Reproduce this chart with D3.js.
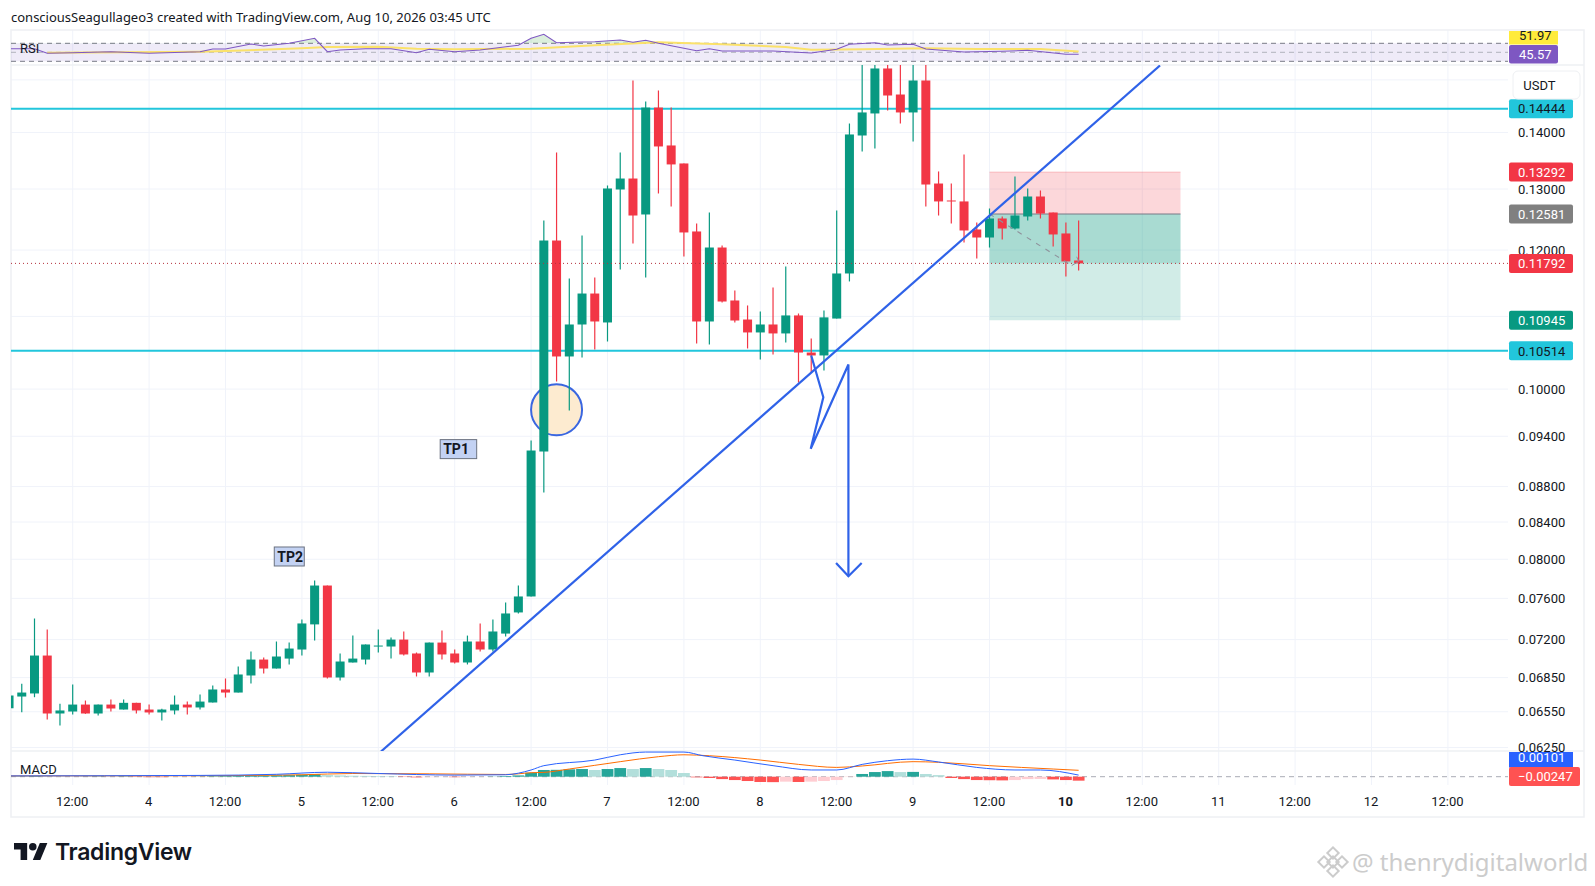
<!DOCTYPE html>
<html>
<head>
<meta charset="utf-8">
<script src="https://cdn.jsdelivr.net/npm/d3@7"></script>
<style>
  html, body { margin: 0; padding: 0; background: #fff; overflow: hidden; }
  text { font-family: Roboto, sans-serif; fill: #131722; }
</style>
</head>
<body>
<svg id="chart" width="1595" height="886"></svg>
<script>
// 2h candles, bar number 0 is Aug 3 12:00 UTC, first bar on screen is -5
const firstBar = -5;
const opens = [
  .06580,.06682,.06709,.07051,.06535,.06552,.06612,.06535,.06612,.06569,
  .06627,.06569,.06544,.06561,.06612,.06587,.06630,.06744,.06717,.06869,
  .07014,.06932,.07023,.07107,.07345,.07729,.06851,.06987,.07014,.07135,
  .07135,.07200,.07070,.06896,.07172,.07070,.06987,.07182,.07107,.07257,
  .07461,.07619,.09214,.12151,.10437,.10884,.11335,.10913,.12992,.13180,
  .12573,.14466,.13764,.13443,.12296,.10927,.12040,.11232,.10955,.10771,
  .10884,.10757,.11014,.10491,.10451,.10969,.11637,.13945,.14354,.15226,
  .14715,.14373,.14988,.13094,.12806,.12790,.12328,.12199,.12507,.12344,
  .12540,.12873,.12606,.12264,.11837];
const highs = [
  .06691,.06795,.07402,.07296,.06618,.06788,.06647,.06612,.06656,.06656,
  .06627,.06612,.06575,.06691,.06638,.06700,.06779,.06842,.06950,.07089,
  .07032,.07182,.07172,.07393,.07780,.07729,.07070,.07238,.07154,.07296,
  .07219,.07277,.07079,.07172,.07286,.07107,.07238,.07354,.07393,.07559,
  .07729,.09348,.12474,.13638,.11561,.12231,.11576,.13060,.13638,.14988,
  .14581,.14793,.14466,.13443,.12425,.12606,.12071,.11380,.11159,.11072,
  .11425,.11745,.11042,.10686,.11086,.12639,.14166,.15386,.15386,.15386,
  .15386,.15386,.15386,.13303,.13094,.13602,.12441,.12672,.12540,.13215,
  .13009,.12975,.12606,.12441,.12474];
const lows = [
  .06580,.06546,.06676,.06483,.06433,.06527,.06532,.06518,.06552,.06569,
  .06535,.06527,.06475,.06527,.06527,.06569,.06630,.06673,.06717,.06797,
  .06887,.06932,.06969,.07051,.07191,.06842,.06824,.06987,.06969,.07079,
  .07023,.07051,.06860,.06860,.07014,.06978,.06969,.07089,.07089,.07229,
  .07451,.07619,.08732,.10100,.09723,.10423,.10533,.10644,.11698,.12103,
  .11576,.12924,.12706,.11899,.10616,.10602,.11203,.10913,.10547,.10396,
  .10464,.10630,.10087,.10220,.10247,.10969,.11516,.13656,.13710,.14410,
  .14166,.13836,.12706,.12556,.12425,.12119,.11868,.12040,.12167,.12328,
  .12474,.12507,.12056,.11592,.11683];
const closes = [
  .06691,.06717,.07051,.06535,.06561,.06612,.06535,.06612,.06578,.06627,
  .06561,.06544,.06569,.06612,.06587,.06638,.06744,.06717,.06878,.07014,
  .06932,.07042,.07116,.07354,.07729,.06851,.06996,.07023,.07154,.07144,
  .07200,.07061,.06896,.07172,.07061,.06987,.07182,.07107,.07277,.07451,
  .07619,.09226,.12151,.10437,.10884,.11335,.10927,.13009,.13180,.12556,
  .14466,.13746,.13426,.12280,.10927,.12040,.11217,.10941,.10771,.10884,
  .10757,.11014,.10491,.10451,.10986,.11637,.13964,.14373,.15226,.14696,
  .14373,.14988,.13077,.12790,.12790,.12312,.12199,.12507,.12344,.12556,
  .12873,.12589,.12248,.11822,.11792];

// axes
const priceTicks = [.14,.13,.12,.10,.094,.088,.084,.08,.076,.072,.0685,.0655,.0625];
const gridPrices = [.15,.14,.13,.12,.11,.10,.094,.088,.084,.08,.076,.072,.0685,.0655,.0625];
const timeLabels = ['12:00','4','12:00','5','12:00','6','12:00','7','12:00','8','12:00','9','12:00','10','12:00','11','12:00','12','12:00'];

// price tags and horizontal levels
const levelPrices = [.14444,.10514];
const stopPrice = .13292, entryPrice = .12581, lastPrice = .11792, targetPrice = .10945;
const positionBars = [72, 87];

// drawings, in [bar number, price]
const trendLine = [[24.21,.06217],[85.39,.15286]];
const handArrow = [[58,.10451],[58.95,.09894],[57.96,.09247],[60.92,.10328],[60.92,.07824]];
const handArrowHead = [[59.95,.07961],[60.92,.07824],[61.96,.07961]];
const tradePath = [[72,.12581],[78.46,.11759]];
const tradeHead = [[78.46,.11759],[79,.11822],[78.85,.11895]];
const circleMark = [38,.09732];
const noteLabels = ['TP1','TP2'];
const noteBars = [28.86,15.83];
const notePrices = [.09243,.08029];

// RSI readings, in [bar number, value]
const rsiLine = [[-5,58],[-3,58],[-2,47.8],[0,49.1],[3,51.3],[6,47.8],[10,51.3],[11,57.3],[12,57.3],[14,68.4],[15,64],[17,70],[19,81.1],[20,51.3],[21,55.1],[23,58],[25,58],[27,49.1],[28,56.7],[30,51.3],[32,55.1],[35,65.6],[36,81.1],[37,90],[38,71.3],[40,72.9],[41,73.6],[43,77.3],[44,72.2],[45,76.7],[46,70],[47,64.7],[49,53.6],[50,58],[51,52.9],[55,52.9],[58,48.4],[60,56.7],[61,67.8],[63,71.3],[64,66.2],[66,67.8],[67,57.3],[70,50.7],[73,52.2],[75,54.4],[78,45.6],[79,45.57]];
const rsiMa = [[-2,49.1],[10,51.3],[12,52.9],[18,58.9],[20,61.8],[24,62.4],[27,58],[30,56.7],[36,58],[41,65.8],[46,72.2],[51,67.8],[56,61.8],[58,55.8],[62,56.7],[67,58.9],[71,57.3],[76,57.3],[79,51.97]];

// MACD, histogram has one value per candle
const macdHist = [
  .0001,.0002,.0004,.0003,.0002,.0001,.0001,.0002,.0001,.0002,
  -.0002,-.0003,-.0003,-.0002,-.0001,.0001,.0003,.0004,.0006,.0008,
  .0008,.0009,.0010,.0012,.0016,.0010,.0008,.0006,.0005,.0004,
  .0003,-.0002,-.0004,-.0003,-.0002,-.0003,-.0002,-.0001,.0001,.0004,
  .0008,.0025,.0042,.0043,.0046,.0048,.0042,.0048,.0054,.0048,
  .0054,.0048,.0042,.0023,-.0004,-.0008,-.0015,-.0021,-.0027,-.0033,
  -.0034,-.0031,-.0033,-.0031,-.0027,-.0021,-.0002,.0017,.0029,.0035,
  .0029,.0030,.0017,.0010,-.0008,-.0015,-.0021,-.0022,-.0023,-.0021,
  -.0015,-.0014,-.0017,-.0021,-.00247];
const macdLine = [[-5,.0005],[10,.0008],[16,.0015],[20,.0028],[24,.0020],[30,.0010],[34,.0012],[35,.0022],[36,.0042],[37,.0069],[41,.0104],[43,.0137],[45,.0154],[48,.0154],[49.5,.0131],[52,.0104],[55,.0069],[58,.0042],[60,.0042],[62,.0077],[64,.0100],[66,.0110],[68,.0092],[71,.0058],[74,.0042],[76,.0042],[79,.00101]];
const macdSignal = [[-5,.0005],[10,.0006],[18,.0012],[22,.0020],[28,.0018],[34,.0014],[35,.0018],[36,.0025],[37,.0027],[39,.0048],[43,.0094],[46,.0125],[48,.0137],[50,.0131],[54,.0104],[57,.0077],[60,.0058],[62,.0067],[66,.0094],[68,.0090],[72,.0069],[77,.0048],[79,.0040]];

const svg = d3.select('#chart');
const H2 = 2 * 3600 * 1000;
const t0 = Date.UTC(2026, 7, 3, 12);

// panes
const paneLeft = 11, paneRight = 1508, outerRight = 1584;
const rsiTop = 30, mainTop = 65, mainBottom = 751, macdBottom = 785, outerBottom = 817;

const xTime = d3.scaleUtc().domain([new Date(t0), new Date(t0 + 108 * H2)]).range([72.7, 1447.9]);
const barX = n => xTime(new Date(t0 + n * H2));
const y = d3.scaleLog().domain([.14, .0625]).range([132.5, 747.5]);
const yRsi = d3.scaleLinear().domain([70, 30]).range([43.3, 61.3]);
const yMacd = d3.scaleLinear().domain([0, .01]).range([776.7, 760.7]);
const tickTimes = timeLabels.map((_, i) => new Date(t0 + i * 6 * H2));

const defs = svg.append('defs');
function addClip(id, top, bottom) {
  defs.append('clipPath').attr('id', id).append('rect')
    .attr('x', paneLeft).attr('y', top).attr('width', paneRight - paneLeft).attr('height', bottom - top);
}
addClip('clip-rsi', rsiTop, mainTop);
addClip('clip-main', mainTop, mainBottom);
addClip('clip-macd', mainBottom, macdBottom);
defs.append('clipPath').attr('id', 'clip-ob').append('rect')
  .attr('x', paneLeft).attr('y', rsiTop).attr('width', paneRight - paneLeft).attr('height', yRsi(70) - rsiTop);

// === grid and frame ===
const gridColor = '#f0f3fa';
svg.append('g').selectAll('line').data(tickTimes).join('line')
  .attr('x1', d => xTime(d)).attr('x2', d => xTime(d))
  .attr('y1', rsiTop).attr('y2', macdBottom)
  .attr('stroke', gridColor).attr('stroke-width', 1);
svg.append('g').selectAll('line').data(gridPrices).join('line')
  .attr('x1', paneLeft).attr('x2', paneRight)
  .attr('y1', d => y(d)).attr('y2', d => y(d))
  .attr('stroke', gridColor).attr('stroke-width', 1);

const frame = svg.append('g').attr('stroke', '#eef0f3').attr('stroke-width', 1.5);
frame.append('rect').attr('x', paneLeft).attr('y', rsiTop).attr('width', outerRight - paneLeft)
  .attr('height', outerBottom - rsiTop).attr('fill', 'none');
[mainTop, mainBottom].forEach(v => {
  frame.append('line').attr('x1', paneLeft).attr('x2', outerRight).attr('y1', v).attr('y2', v);
});

// === RSI pane ===
const rsiG = svg.append('g').attr('clip-path', 'url(#clip-rsi)');
rsiG.append('rect').attr('x', paneLeft).attr('width', paneRight - paneLeft)
  .attr('y', yRsi(70)).attr('height', yRsi(30) - yRsi(70)).attr('fill', '#7e57c2').attr('opacity', .12);
[[70, '#787b86', 1], [50, '#a9acb5', .9], [30, '#787b86', 1]].forEach(([v, c, w]) => {
  rsiG.append('line').attr('x1', paneLeft).attr('x2', paneRight).attr('y1', yRsi(v)).attr('y2', yRsi(v))
    .attr('stroke', c).attr('stroke-width', w).attr('stroke-dasharray', '5 4');
});
const rsiPath = d3.line().x(d => barX(d[0])).y(d => yRsi(d[1]));
rsiG.append('path').datum(rsiLine).attr('clip-path', 'url(#clip-ob)')
  .attr('d', d3.area().x(d => barX(d[0])).y0(yRsi(70)).y1(d => yRsi(d[1])))
  .attr('fill', '#4caf50').attr('opacity', .2);
rsiG.append('path').datum(rsiMa).attr('d', rsiPath).attr('fill', 'none').attr('stroke', '#fbe26a').attr('stroke-width', 2);
rsiG.append('path').datum(rsiLine).attr('d', rsiPath).attr('fill', 'none').attr('stroke', '#7e57c2').attr('stroke-width', 1.1);
svg.append('text').attr('x', 20).attr('y', 48.5).attr('dy', '.35em').attr('font-size', 13).text('RSI');

// === main pane: things under the candles ===
const mainG = svg.append('g').attr('clip-path', 'url(#clip-main)');
const posX = barX(positionBars[0]), posW = barX(positionBars[1]) - posX;
mainG.append('rect').attr('x', posX).attr('width', posW).attr('y', y(stopPrice)).attr('height', y(entryPrice) - y(stopPrice))
  .attr('fill', '#f23645').attr('fill-opacity', .2);
mainG.append('line').attr('x1', posX).attr('x2', posX + posW).attr('y1', y(stopPrice)).attr('y2', y(stopPrice))
  .attr('stroke', '#f23645').attr('stroke-opacity', .25);
mainG.append('rect').attr('x', posX).attr('width', posW).attr('y', y(entryPrice)).attr('height', y(targetPrice) - y(entryPrice))
  .attr('fill', '#089981').attr('fill-opacity', .19);
mainG.append('rect').attr('x', posX).attr('width', posW).attr('y', y(entryPrice)).attr('height', y(lastPrice) - y(entryPrice))
  .attr('fill', '#089981').attr('fill-opacity', .2);
mainG.append('line').attr('x1', posX).attr('x2', posX + posW).attr('y1', y(entryPrice)).attr('y2', y(entryPrice))
  .attr('stroke', '#787b86').attr('stroke-width', 1.2);

mainG.append('g').selectAll('line').data(levelPrices).join('line')
  .attr('x1', paneLeft).attr('x2', paneRight).attr('y1', d => y(d)).attr('y2', d => y(d))
  .attr('stroke', '#22c6dc').attr('stroke-width', 2);

mainG.append('circle').attr('cx', barX(circleMark[0])).attr('cy', y(circleMark[1])).attr('r', 25.5)
  .attr('fill', '#fdebd0').attr('stroke', '#3a66e0').attr('stroke-width', 2);

// === candles ===
const candles = opens.map((o, i) => ({n: firstBar + i, o, h: highs[i], l: lows[i], c: closes[i]}));
const candleColor = d => d.c >= d.o ? '#089981' : '#f23645';
const candleG = mainG.append('g');
candleG.selectAll('line').data(candles).join('line')
  .attr('x1', d => barX(d.n)).attr('x2', d => barX(d.n))
  .attr('y1', d => y(d.h)).attr('y2', d => y(d.l))
  .attr('stroke', candleColor).attr('stroke-width', 1.2);
candleG.selectAll('rect').data(candles).join('rect')
  .attr('x', d => barX(d.n) - 4.5).attr('width', 9)
  .attr('y', d => y(Math.max(d.o, d.c)))
  .attr('height', d => Math.max(1, Math.abs(y(d.o) - y(d.c))))
  .attr('fill', candleColor);

// === drawings on top of the candles ===
mainG.append('line').attr('x1', paneLeft).attr('x2', paneRight).attr('y1', y(lastPrice)).attr('y2', y(lastPrice))
  .attr('stroke', '#b5303c').attr('stroke-width', 1).attr('stroke-dasharray', '1 3');

const pricePath = d3.line().x(d => barX(d[0])).y(d => y(d[1]));
mainG.append('path').datum(tradePath).attr('d', pricePath).attr('fill', 'none')
  .attr('stroke', '#8f939c').attr('stroke-width', 1.1).attr('stroke-dasharray', '5 6');
mainG.append('path').datum(tradeHead).attr('d', pricePath).attr('fill', 'none')
  .attr('stroke', '#8f939c').attr('stroke-width', 1);
[trendLine, handArrow, handArrowHead].forEach(pts => {
  mainG.append('path').datum(pts).attr('d', pricePath).attr('fill', 'none')
    .attr('stroke', '#2f62e8').attr('stroke-width', 2.2);
});

noteLabels.forEach((t, i) => {
  const g = mainG.append('g').attr('transform', `translate(${barX(noteBars[i])},${y(notePrices[i])})`);
  g.append('rect').attr('y', -9.5).attr('height', 19).attr('width', t === 'TP1' ? 36.5 : 30)
    .attr('fill', '#c3d2f3').attr('stroke', '#6b7280').attr('stroke-width', 1);
  g.append('text').attr('x', 3).attr('dy', '.36em').attr('font-size', 14).attr('font-weight', 700).text(t);
});

// === MACD pane ===
const macdG = svg.append('g').attr('clip-path', 'url(#clip-macd)');
macdG.append('line').attr('x1', paneLeft).attr('x2', paneRight).attr('y1', yMacd(0)).attr('y2', yMacd(0))
  .attr('stroke', '#a9acb5').attr('stroke-width', 1).attr('stroke-dasharray', '5 4');
const histColor = (d, i) => {
  const prev = i ? macdHist[i - 1] : 0;
  if (d >= 0) return d >= prev ? '#26a69a' : '#b2dfdb';
  return d <= prev ? '#ff5252' : '#ffcdd2';
};
macdG.append('g').selectAll('rect').data(macdHist).join('rect')
  .attr('x', (d, i) => barX(firstBar + i) - 5.9).attr('width', 11.8)
  .attr('y', d => Math.min(yMacd(d), yMacd(0)))
  .attr('height', d => Math.abs(yMacd(d) - yMacd(0)))
  .attr('fill', histColor);
const macdPath = d3.line().x(d => barX(d[0])).y(d => yMacd(d[1])).curve(d3.curveMonotoneX);
macdG.append('path').datum(macdSignal).attr('d', macdPath).attr('fill', 'none').attr('stroke', '#ff6d00').attr('stroke-width', 1);
macdG.append('path').datum(macdLine).attr('d', macdPath).attr('fill', 'none').attr('stroke', '#2962ff').attr('stroke-width', 1);
svg.append('text').attr('x', 20).attr('y', 769).attr('dy', '.35em').attr('font-size', 13).text('MACD');

// === axes ===
const yAxis = svg.append('g').attr('transform', 'translate(1518,0)')
  .call(d3.axisRight(y).tickValues(priceTicks).tickFormat(d3.format('.5f')).tickSize(0).tickPadding(0));
yAxis.select('.domain').remove();
yAxis.selectAll('text').attr('font-size', 13).style('font-family', 'Roboto, sans-serif').attr('fill', '#131722');

const xAxis = svg.append('g').attr('transform', 'translate(-1,797)')
  .call(d3.axisBottom(xTime).tickValues(tickTimes).tickFormat((d, i) => timeLabels[i]).tickSize(0).tickPadding(0));
xAxis.select('.domain').remove();
xAxis.selectAll('text').attr('font-size', 13).style('font-family', 'Roboto, sans-serif').attr('fill', '#131722')
  .attr('font-weight', d => +d === +tickTimes[13] ? 700 : 400);

// === price tags ===
function priceTag(v, top, bg, color, width) {
  const g = svg.append('g');
  g.append('rect').attr('x', 1509).attr('y', top).attr('width', width || 64).attr('height', 19).attr('rx', 2).attr('fill', bg);
  g.append('text').attr('x', 1518).attr('y', top + 9.5).attr('dy', '.36em').attr('font-size', 13).style('fill', color).text(v);
}
const fmt5 = d3.format('.5f');
levelPrices.forEach(p => priceTag(fmt5(p), y(p) - 9.5, '#22c6dc', '#131722'));
priceTag(fmt5(stopPrice), y(stopPrice) - 9.5, '#f23645', '#fff');
priceTag(fmt5(entryPrice), y(entryPrice) - 9.5, '#808080', '#fff');
priceTag(fmt5(lastPrice), y(lastPrice) - 9.5, '#f23645', '#fff');
priceTag(fmt5(targetPrice), y(targetPrice) - 9.5, '#089981', '#fff');

// RSI and MACD tags
const tagG = svg.append('g');
tagG.append('rect').attr('x', 1509).attr('y', 31).attr('width', 49).attr('height', 13.5).attr('fill', '#ffeb3b');
tagG.append('text').attr('x', 1519).attr('y', 35).attr('dy', '.36em').attr('font-size', 13).text('51.97');
tagG.append('rect').attr('x', 1509).attr('y', 45).attr('width', 49).attr('height', 18.5).attr('rx', 2).attr('fill', '#7e57c2');
tagG.append('text').attr('x', 1519).attr('y', 54.2).attr('dy', '.36em').attr('font-size', 13).style('fill', '#fff').text('45.57');
tagG.append('rect').attr('x', 1509).attr('y', 752).attr('width', 64).attr('height', 15.5).attr('fill', '#2962ff');
tagG.append('text').attr('x', 1518).attr('y', 757.5).attr('dy', '.36em').attr('font-size', 13).style('fill', '#fff').text('0.00101');
tagG.append('rect').attr('x', 1509).attr('y', 767).attr('width', 71).attr('height', 19).attr('rx', 2).attr('fill', '#ff5252');
tagG.append('text').attr('x', 1518).attr('y', 776).attr('dy', '.36em').attr('font-size', 13).style('fill', '#fff').text('\u22120.00247');

// currency button
svg.append('rect').attr('x', 1513).attr('y', 71).attr('width', 67).attr('height', 28).attr('rx', 5)
  .attr('fill', '#fff').attr('stroke', '#eef0f3').attr('stroke-width', 1);
svg.append('text').attr('x', 1539.5).attr('y', 85).attr('dy', '.36em').attr('text-anchor', 'middle').attr('font-size', 13).text('USDT');

// === header and footer ===
svg.append('text').attr('x', 11).attr('y', 17).attr('dy', '.35em').style('font-family', '"Noto Sans", sans-serif').attr('font-size', 13)
  .text('consciousSeagullageo3 created with TradingView.com, Aug 10, 2026 03:45 UTC');

const logo = svg.append('g').attr('transform', 'translate(14,843) scale(.94)').attr('fill', '#131722');
logo.append('path').attr('d', 'M14 18H7V7H0V0h14v18zM28 18h-8L27.5 0h8L28 18z');
logo.append('circle').attr('cx', 20).attr('cy', 4).attr('r', 4);
svg.append('text').attr('x', 55).attr('y', 852).attr('dy', '.36em').style('font-family', 'Inter, sans-serif')
  .attr('font-size', 23).attr('font-weight', 600).attr('letter-spacing', -.3).text('TradingView');

// watermark
const wmColor = '#cccccc';
const wm = svg.append('g').attr('transform', 'translate(1333,862)').attr('fill', 'none').attr('stroke', wmColor).attr('stroke-width', 2);
[[0, 0, 4], [0, -9, 4], [0, 9, 4], [-9, 0, 4], [9, 0, 4]].forEach(([cx, cy, r]) => {
  wm.append('rect').attr('x', cx - r).attr('y', cy - r).attr('width', 2 * r).attr('height', 2 * r)
    .attr('transform', `rotate(45 ${cx} ${cy})`);
});
svg.append('text').attr('x', 1352).attr('y', 862).attr('dy', '.36em').style('font-family', '"Noto Sans", sans-serif')
  .attr('font-size', 24).style('fill', wmColor).text('@ thenrydigitalworld');
</script>
</body>
</html>
